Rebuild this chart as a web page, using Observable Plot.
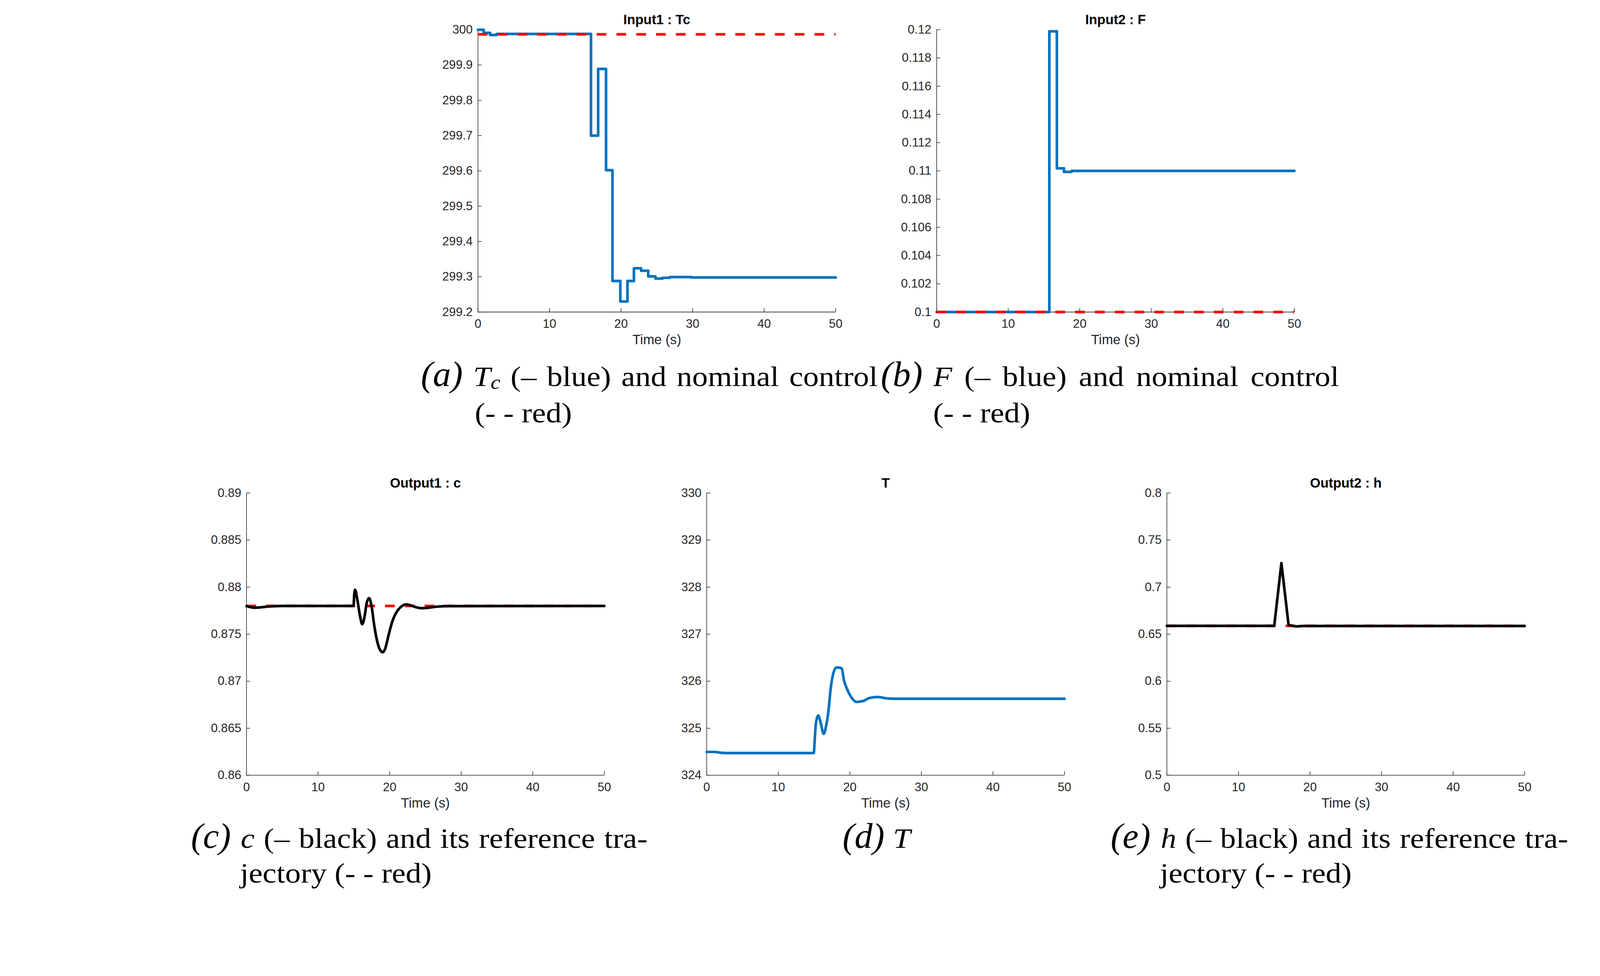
<!DOCTYPE html>
<html><head><meta charset="utf-8">
<script src="https://cdn.jsdelivr.net/npm/d3@7"></script>
<script src="https://cdn.jsdelivr.net/npm/@observablehq/plot@0.6"></script>
<style>
html,body{margin:0;padding:0;background:#fff;overflow:hidden;}
#outer{position:relative;overflow:hidden;background:#fff;}
#root{position:absolute;left:0;top:0;width:4280px;height:2498px;overflow:hidden;background:#fff;transform-origin:0 0;}
.panel{position:absolute;}
.cap{position:absolute;font-family:'Liberation Serif','Times New Roman',serif;color:#000;white-space:nowrap;transform-origin:0 0;}
.lab{font-style:italic;}
.just{text-align:justify;text-align-last:justify;white-space:normal;}
.sub{font-style:italic;font-size:0.7em;position:relative;top:0.15em;}
</style></head><body><div id="outer"><div id="root"></div></div>
<script>
// ---------- data ----------
const timeTicks = [0, 10, 20, 30, 40, 50];

// (a) Input1 : Tc
const tcTime  = [0, 0.8, 1.7, 2.6, 15.8, 16.8, 17.9, 18.8, 19.9, 20.9, 21.8, 22.8, 23.8, 24.8, 25.8, 26.8, 29.8, 50];
const tcValue = [300.0, 299.991, 299.985, 299.988, 299.700, 299.889, 299.602, 299.288, 299.230, 299.288, 299.324, 299.317, 299.301, 299.295, 299.297, 299.299, 299.298, 299.298];
const tcNominal = 299.987;
const tcTicks = [299.2, 299.3, 299.4, 299.5, 299.6, 299.7, 299.8, 299.9, 300];

// (b) Input2 : F
const fTime  = [0, 15.75, 16.8, 17.8, 18.85, 50];
const fValue = [0.1, 0.11989, 0.11018, 0.10993, 0.11, 0.11];
const fNominal = 0.1;
const fTicks = [0.1, 0.102, 0.104, 0.106, 0.108, 0.11, 0.112, 0.114, 0.116, 0.118, 0.12];

// (c) Output1 : c
const cTime  = [0, 0.5, 1.1, 2, 3, 4.1, 5, 14.95, 15.05, 15.17, 15.5, 15.87, 16.17, 16.5, 16.8, 17.13, 17.5, 17.8, 18.26, 18.7, 19.04, 19.35, 19.87, 20.4, 21.1, 21.7, 22.3, 23.0, 23.7, 24.5, 25.4, 26.7, 28, 50];
const cValue = [0.87798, 0.87788, 0.87781, 0.87785, 0.87793, 0.87798, 0.87800, 0.87800, 0.87920, 0.87972, 0.87858, 0.87689, 0.87605, 0.87690, 0.87834, 0.87883, 0.87786, 0.87617, 0.87424, 0.87327, 0.87308, 0.87340, 0.87496, 0.87641, 0.87750, 0.87798, 0.87817, 0.87805, 0.87786, 0.87776, 0.87781, 0.87793, 0.87798, 0.87800];
const cRef = 0.878;
const cTicks = [0.86, 0.865, 0.87, 0.875, 0.88, 0.885, 0.89];

// (d) T
const tTime  = [0, 1, 2.1, 3.4, 14.96, 15.1, 15.26, 15.6, 15.9, 16.35, 16.7, 17.0, 17.35, 17.8, 18.1, 18.5, 18.87, 19.17, 19.74, 20.4, 20.9, 21.9, 22.65, 23.87, 25.17, 26.5, 50];
const tValue = [324.497, 324.497, 324.478, 324.473, 324.473, 324.77, 325.11, 325.27, 325.13, 324.88, 325.06, 325.35, 325.88, 326.22, 326.29, 326.29, 326.27, 326.03, 325.79, 325.62, 325.56, 325.58, 325.64, 325.665, 325.636, 325.627, 325.627];
const tTicks = [324, 325, 326, 327, 328, 329, 330];

// (e) Output2 : h
const hTime  = [0, 15, 16, 17, 18, 19, 50];
const hValue = [0.6588, 0.6588, 0.7256, 0.6598, 0.6582, 0.6587, 0.6587];
const hRef = 0.6588;
const hTicks = [0.5, 0.55, 0.6, 0.65, 0.7, 0.75, 0.8];

// ---------- styling ----------
const FW = 957, FH = 755, ML = 150, MR = 30, MT = 70, MB = 110, TICK = 10;
const AX = "#262626", AXW = 1.6;
const BLUE = "#0072BD", RED = "#FF0000", BLACK = "#000000";
const LW = 7, DASH = "26,27";
const fmt = d3.format("~g");
const outer = document.getElementById("outer");
const root = document.getElementById("root");

// fit the 4280x2498 layout into the actual viewport (and keep the document that size)
const fit = Math.min(window.innerWidth / 4280, window.innerHeight / 2498);
root.style.transform = `scale(${fit})`;
outer.style.width = Math.floor(4280 * fit) + "px";
outer.style.height = Math.floor(2498 * fit) + "px";

function rows(t, v) { return t.map((x, i) => ({t: x, v: v[i]})); }

function panel({left, top, ticks, title, marks}) {
  const yDom = [ticks[0], ticks[ticks.length - 1]];
  const svg = Plot.plot({
    width: ML + FW + MR, height: MT + FH + MB,
    marginLeft: ML, marginRight: MR, marginTop: MT, marginBottom: MB,
    x: {domain: [0, 50]},
    y: {domain: yDom},
    style: {fontFamily: "'Liberation Sans', Arial, sans-serif", fontSize: "32.5px", color: AX, background: "transparent", overflow: "visible"},
    marks: [
      Plot.ruleX(timeTicks, {x: d => d, insetTop: FH - TICK, stroke: AX, strokeWidth: AXW}),
      Plot.ruleY(ticks, {y: d => d, insetRight: FW - TICK, stroke: AX, strokeWidth: AXW}),
      Plot.ruleY([yDom[0]], {stroke: AX, strokeWidth: AXW}),
      Plot.ruleX([0], {stroke: AX, strokeWidth: AXW}),
      Plot.axisX({ticks: timeTicks, tickSize: 0, tickPadding: 19, tickFormat: fmt, label: null}),
      Plot.axisY({ticks: ticks, tickSize: 0, tickPadding: 14, tickFormat: fmt, label: null}),
      ...marks,
      Plot.text([title], {text: d => d, frameAnchor: "top", lineAnchor: "middle", dy: -26, fontSize: 36, fontWeight: "bold", fill: "#000"}),
      Plot.text(["Time (s)"], {text: d => d, frameAnchor: "bottom", lineAnchor: "middle", dy: 75, fontSize: 36, fill: AX})
    ]
  });
  const div = document.createElement("div");
  div.className = "panel";
  div.style.left = (left - ML) + "px";
  div.style.top = (top - MT) + "px";
  div.appendChild(svg);
  root.appendChild(div);
}

const solid = (data, stroke, curve) => Plot.line(data, {x: "t", y: "v", stroke, strokeWidth: LW, curve});
const dashed = (val) => Plot.ruleY([val], {stroke: RED, strokeWidth: LW, strokeDasharray: DASH, strokeLinecap: "butt"});

panel({left: 1278, top: 79, ticks: tcTicks, title: "Input1 : Tc",
  marks: [solid(rows(tcTime, tcValue), BLUE, "step-after"), dashed(tcNominal)]});
panel({left: 2505, top: 79, ticks: fTicks, title: "Input2 : F",
  marks: [solid(rows(fTime, fValue), BLUE, "step-after"), dashed(fNominal)]});
panel({left: 659, top: 1318, ticks: cTicks, title: "Output1 : c",
  marks: [dashed(cRef), solid(rows(cTime, cValue), BLACK, "monotone-x")]});
panel({left: 1890, top: 1318, ticks: tTicks, title: "T",
  marks: [solid(rows(tTime, tValue), BLUE, "monotone-x")]});
panel({left: 3121, top: 1318, ticks: hTicks, title: "Output2 : h",
  marks: [dashed(hRef), solid(rows(hTime, hValue), BLACK, "linear")]});

// ---------- captions ----------
function cap(x, baseline, size, scale, html, opts = {}) {
  const d = document.createElement("div");
  d.className = "cap" + (opts.label ? " lab" : "") + (opts.width ? " just" : "");
  d.style.fontSize = size + "px";
  d.style.lineHeight = size + "px";
  d.style.left = x + "px";
  d.style.top = (baseline - 0.8375 * size) + "px";
  d.style.transform = `scaleX(${scale})`;
  if (opts.width) d.style.width = (opts.width / scale) + "px";
  d.innerHTML = html;
  root.appendChild(d);
}
const LS = 96, LSX = 1.0, TS = 76, TSX = 1.1;
// (a)
cap(1126, 1032, LS, LSX, "(a)", {label: true});
cap(1266, 1032, TS, TSX, '<i>T</i><span class="sub">c</span> (– blue) and nominal control', {width: 1082});
cap(1270, 1130, TS, TSX, "(- - red)");
// (b)
cap(2356, 1032, LS, LSX, "(b)", {label: true});
cap(2496, 1032, TS, TSX, '<i>F</i> (– blue) and nominal control', {width: 1086});
cap(2496, 1130, TS, TSX, "(- - red)");
// (c)
cap(511, 2268, LS, LSX, "(c)", {label: true});
cap(644, 2268, TS, TSX, '<i>c</i> (– black) and its reference tra-', {width: 1088});
cap(642, 2360, TS, TSX, "jectory (- - red)");
// (d)
cap(2254, 2268, LS, LSX, "(d)", {label: true});
cap(2389, 2268, TS, TSX, "<i>T</i>");
// (e)
cap(2971, 2268, LS, LSX, "(e)", {label: true});
cap(3105, 2268, TS, TSX, '<i>h</i> (– black) and its reference tra-', {width: 1090});
cap(3103, 2360, TS, TSX, "jectory (- - red)");
</script></body></html>
